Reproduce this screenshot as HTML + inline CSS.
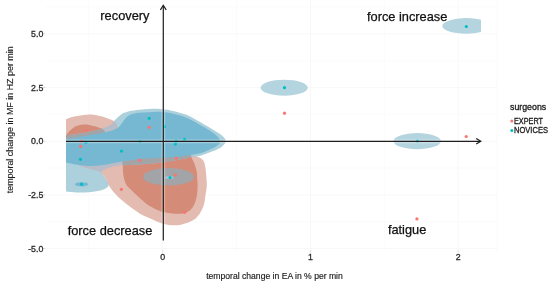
<!DOCTYPE html>
<html><head><meta charset="utf-8"><style>
html,body{margin:0;padding:0;background:#fff;}
body{width:550px;height:283px;overflow:hidden;}
svg{display:block;}
</style></head><body>
<svg width="550" height="283" viewBox="0 0 550 283"><defs><clipPath id="dr"><rect x="66" y="0" width="415" height="260"/></clipPath><clipPath id="cR1"><path d="M60.0,120.5 C61.0,113.7 63.6,120.0 66.0,119.3 C68.4,118.6 70.8,117.3 74.3,116.6 C77.8,115.8 83.6,115.1 86.7,114.8 C89.8,114.5 90.8,114.6 93.0,114.8 C95.2,115.0 97.8,115.4 100.0,115.9 C102.2,116.4 104.3,117.1 106.0,117.7 C107.7,118.3 108.7,118.8 110.0,119.3 C111.3,119.8 112.7,120.1 113.8,120.9 C114.9,121.7 115.5,122.5 116.5,124.0 C117.5,125.5 116.9,127.7 120.0,130.0 C123.1,132.3 128.3,135.3 135.0,138.0 C141.7,140.7 152.0,143.5 160.0,146.0 C168.0,148.5 177.8,151.4 183.0,153.0 C188.2,154.6 188.2,154.9 190.9,155.6 C193.6,156.3 196.9,156.5 198.9,157.3 C200.9,158.1 202.2,159.2 203.2,160.5 C204.2,161.8 204.4,163.1 204.9,165.0 C205.4,166.9 205.6,168.7 205.9,172.0 C206.2,175.3 206.9,180.8 206.8,185.0 C206.7,189.2 205.7,193.7 205.2,197.0 C204.7,200.3 204.8,202.0 203.9,204.8 C203.0,207.6 201.3,211.4 199.5,214.0 C197.7,216.6 195.9,218.6 193.0,220.3 C190.1,222.0 185.8,223.6 182.0,224.4 C178.2,225.2 173.7,225.5 170.0,225.2 C166.3,224.9 163.8,224.1 160.0,222.8 C156.2,221.5 150.9,218.9 147.4,217.3 C143.9,215.7 141.7,214.7 138.9,213.0 C136.1,211.3 133.2,209.2 130.4,207.1 C127.6,205.0 124.8,202.8 122.0,200.3 C119.2,197.8 115.7,194.4 113.5,191.9 C111.3,189.4 109.9,187.1 108.8,185.2 C107.7,183.3 107.6,181.9 106.8,180.4 C106.0,178.9 104.9,177.4 103.8,175.9 C102.7,174.4 101.9,172.8 99.9,171.7 C97.9,170.6 94.7,170.2 92.0,169.5 C89.3,168.8 86.8,168.3 84.0,167.2 C81.2,166.1 78.0,164.2 75.0,163.0 C72.0,161.8 68.5,160.5 66.0,160.0 C63.5,159.5 61.0,166.6 60.0,160.0 C59.0,153.4 59.0,127.3 60.0,120.5Z"/></clipPath><clipPath id="cR2"><path d="M64.0,139.0 C64.0,137.3 65.3,136.6 66.0,135.6 C66.7,134.6 67.3,133.6 68.0,132.8 C68.7,132.0 69.0,131.5 70.0,130.6 C71.0,129.7 72.5,128.2 73.8,127.4 C75.1,126.6 76.3,126.1 78.0,125.6 C79.7,125.1 82.1,124.7 83.9,124.6 C85.7,124.5 87.5,124.7 89.0,124.9 C90.5,125.2 91.7,125.7 93.2,126.1 C94.7,126.5 96.5,126.7 98.0,127.2 C99.5,127.7 101.3,128.2 102.5,129.2 C103.7,130.2 105.4,131.2 105.0,133.0 C104.6,134.8 104.2,138.0 100.0,140.0 C95.8,142.0 85.7,144.0 80.0,145.0 C74.3,146.0 68.7,147.0 66.0,146.0 C63.3,145.0 64.0,140.7 64.0,139.0Z"/><path d="M123.0,158.0 C121.0,160.3 122.7,162.9 122.8,166.0 C122.9,169.1 123.0,173.4 123.6,176.5 C124.2,179.6 125.0,182.3 126.2,184.5 C127.4,186.7 128.7,187.4 130.8,189.5 C132.9,191.6 136.1,194.7 138.9,197.2 C141.7,199.7 144.6,202.5 147.4,204.5 C150.2,206.5 153.2,207.9 155.8,209.2 C158.4,210.4 159.8,211.2 163.0,212.0 C166.2,212.8 171.3,213.6 175.0,213.8 C178.7,214.0 182.2,213.8 185.0,213.0 C187.8,212.2 189.7,210.8 191.5,208.8 C193.3,206.8 194.6,204.1 195.6,201.0 C196.6,197.9 197.2,193.5 197.5,190.0 C197.8,186.5 197.5,183.3 197.3,180.0 C197.1,176.7 197.2,173.3 196.4,170.0 C195.6,166.7 194.4,163.0 192.7,160.0 C191.0,157.0 191.4,153.7 186.0,152.0 C180.6,150.3 168.5,150.0 160.0,150.0 C151.5,150.0 141.2,150.7 135.0,152.0 C128.8,153.3 125.0,155.7 123.0,158.0Z"/></clipPath></defs><g stroke="#f8f8f8"><line x1="45" x2="497" y1="7.0" y2="7.0" stroke-width="0.6"/><line x1="45" x2="497" y1="33.8" y2="33.8" stroke-width="1.0"/><line x1="45" x2="497" y1="60.7" y2="60.7" stroke-width="0.6"/><line x1="45" x2="497" y1="87.5" y2="87.5" stroke-width="1.0"/><line x1="45" x2="497" y1="114.4" y2="114.4" stroke-width="0.6"/><line x1="45" x2="497" y1="141.2" y2="141.2" stroke-width="1.0"/><line x1="45" x2="497" y1="168.0" y2="168.0" stroke-width="0.6"/><line x1="45" x2="497" y1="194.9" y2="194.9" stroke-width="1.0"/><line x1="45" x2="497" y1="221.7" y2="221.7" stroke-width="0.6"/><line x1="45" x2="497" y1="248.5" y2="248.5" stroke-width="1.0"/><line y1="0" y2="252" x1="88.7" x2="88.7" stroke-width="0.6"/><line y1="0" y2="252" x1="162.6" x2="162.6" stroke-width="1.0"/><line y1="0" y2="252" x1="236.5" x2="236.5" stroke-width="0.6"/><line y1="0" y2="252" x1="310.4" x2="310.4" stroke-width="1.0"/><line y1="0" y2="252" x1="384.3" x2="384.3" stroke-width="0.6"/><line y1="0" y2="252" x1="458.2" x2="458.2" stroke-width="1.0"/><line y1="0" y2="252" x1="497" x2="497" stroke-width="0.6"/></g><g clip-path="url(#dr)"><path d="M60.0,135.8 C61.0,126.5 62.4,135.6 66.0,135.2 C69.6,134.8 76.6,134.0 81.6,133.2 C86.6,132.4 92.6,131.1 96.0,130.3 C99.4,129.5 100.0,129.3 102.0,128.6 C104.0,127.9 106.3,127.0 108.0,126.2 C109.7,125.4 110.9,124.4 112.0,123.5 C113.1,122.6 113.7,121.5 114.5,120.6 C115.3,119.7 115.8,119.0 117.0,117.9 C118.2,116.8 120.2,114.9 121.9,113.9 C123.6,112.9 124.4,112.5 126.9,111.9 C129.4,111.3 133.2,110.6 136.7,110.1 C140.2,109.6 144.1,109.3 148.0,109.1 C151.9,108.9 156.2,108.7 160.0,108.9 C163.8,109.1 166.2,109.4 170.6,110.4 C175.0,111.4 180.9,112.5 186.5,114.8 C192.1,117.1 199.2,121.7 204.2,124.5 C209.2,127.3 213.4,129.8 216.5,131.8 C219.6,133.8 221.4,135.0 223.0,136.5 C224.6,138.0 225.7,139.6 225.8,141.0 C225.9,142.4 224.6,143.8 223.5,145.0 C222.4,146.2 221.4,147.1 219.5,148.2 C217.6,149.3 214.9,150.4 211.8,151.6 C208.8,152.8 204.8,154.6 201.2,155.6 C197.6,156.6 193.5,157.0 190.0,157.6 C186.5,158.2 183.3,158.8 180.0,159.4 C176.7,160.0 175.0,160.5 170.0,161.2 C165.0,161.9 155.8,163.2 150.0,163.8 C144.2,164.4 140.0,164.5 135.3,164.7 C130.6,164.9 124.9,165.1 122.0,165.2 C119.1,165.3 119.9,165.1 117.7,165.5 C115.5,165.9 111.5,166.7 108.8,167.7 C106.1,168.7 102.3,170.1 101.5,171.5 C100.7,172.9 103.1,174.7 104.0,176.2 C104.9,177.7 106.0,179.0 106.8,180.4 C107.5,181.8 108.4,183.3 108.5,184.5 C108.6,185.7 108.4,186.4 107.3,187.3 C106.2,188.2 104.7,189.2 102.1,190.0 C99.5,190.8 95.9,191.5 91.7,191.9 C87.5,192.3 81.2,192.6 76.9,192.5 C72.6,192.4 68.8,191.8 66.0,191.6 C63.2,191.3 61.0,200.3 60.0,191.0 C59.0,181.7 59.0,145.1 60.0,135.8Z" fill="#acd0dc"/><path d="M60.0,120.5 C61.0,113.7 63.6,120.0 66.0,119.3 C68.4,118.6 70.8,117.3 74.3,116.6 C77.8,115.8 83.6,115.1 86.7,114.8 C89.8,114.5 90.8,114.6 93.0,114.8 C95.2,115.0 97.8,115.4 100.0,115.9 C102.2,116.4 104.3,117.1 106.0,117.7 C107.7,118.3 108.7,118.8 110.0,119.3 C111.3,119.8 112.7,120.1 113.8,120.9 C114.9,121.7 115.5,122.5 116.5,124.0 C117.5,125.5 116.9,127.7 120.0,130.0 C123.1,132.3 128.3,135.3 135.0,138.0 C141.7,140.7 152.0,143.5 160.0,146.0 C168.0,148.5 177.8,151.4 183.0,153.0 C188.2,154.6 188.2,154.9 190.9,155.6 C193.6,156.3 196.9,156.5 198.9,157.3 C200.9,158.1 202.2,159.2 203.2,160.5 C204.2,161.8 204.4,163.1 204.9,165.0 C205.4,166.9 205.6,168.7 205.9,172.0 C206.2,175.3 206.9,180.8 206.8,185.0 C206.7,189.2 205.7,193.7 205.2,197.0 C204.7,200.3 204.8,202.0 203.9,204.8 C203.0,207.6 201.3,211.4 199.5,214.0 C197.7,216.6 195.9,218.6 193.0,220.3 C190.1,222.0 185.8,223.6 182.0,224.4 C178.2,225.2 173.7,225.5 170.0,225.2 C166.3,224.9 163.8,224.1 160.0,222.8 C156.2,221.5 150.9,218.9 147.4,217.3 C143.9,215.7 141.7,214.7 138.9,213.0 C136.1,211.3 133.2,209.2 130.4,207.1 C127.6,205.0 124.8,202.8 122.0,200.3 C119.2,197.8 115.7,194.4 113.5,191.9 C111.3,189.4 109.9,187.1 108.8,185.2 C107.7,183.3 107.6,181.9 106.8,180.4 C106.0,178.9 104.9,177.4 103.8,175.9 C102.7,174.4 101.9,172.8 99.9,171.7 C97.9,170.6 94.7,170.2 92.0,169.5 C89.3,168.8 86.8,168.3 84.0,167.2 C81.2,166.1 78.0,164.2 75.0,163.0 C72.0,161.8 68.5,160.5 66.0,160.0 C63.5,159.5 61.0,166.6 60.0,160.0 C59.0,153.4 59.0,127.3 60.0,120.5Z" fill="#e3bbb0"/><path d="M64.0,139.0 C64.0,137.3 65.3,136.6 66.0,135.6 C66.7,134.6 67.3,133.6 68.0,132.8 C68.7,132.0 69.0,131.5 70.0,130.6 C71.0,129.7 72.5,128.2 73.8,127.4 C75.1,126.6 76.3,126.1 78.0,125.6 C79.7,125.1 82.1,124.7 83.9,124.6 C85.7,124.5 87.5,124.7 89.0,124.9 C90.5,125.2 91.7,125.7 93.2,126.1 C94.7,126.5 96.5,126.7 98.0,127.2 C99.5,127.7 101.3,128.2 102.5,129.2 C103.7,130.2 105.4,131.2 105.0,133.0 C104.6,134.8 104.2,138.0 100.0,140.0 C95.8,142.0 85.7,144.0 80.0,145.0 C74.3,146.0 68.7,147.0 66.0,146.0 C63.3,145.0 64.0,140.7 64.0,139.0Z" fill="#d48b77"/><path d="M123.0,158.0 C121.0,160.3 122.7,162.9 122.8,166.0 C122.9,169.1 123.0,173.4 123.6,176.5 C124.2,179.6 125.0,182.3 126.2,184.5 C127.4,186.7 128.7,187.4 130.8,189.5 C132.9,191.6 136.1,194.7 138.9,197.2 C141.7,199.7 144.6,202.5 147.4,204.5 C150.2,206.5 153.2,207.9 155.8,209.2 C158.4,210.4 159.8,211.2 163.0,212.0 C166.2,212.8 171.3,213.6 175.0,213.8 C178.7,214.0 182.2,213.8 185.0,213.0 C187.8,212.2 189.7,210.8 191.5,208.8 C193.3,206.8 194.6,204.1 195.6,201.0 C196.6,197.9 197.2,193.5 197.5,190.0 C197.8,186.5 197.5,183.3 197.3,180.0 C197.1,176.7 197.2,173.3 196.4,170.0 C195.6,166.7 194.4,163.0 192.7,160.0 C191.0,157.0 191.4,153.7 186.0,152.0 C180.6,150.3 168.5,150.0 160.0,150.0 C151.5,150.0 141.2,150.7 135.0,152.0 C128.8,153.3 125.0,155.7 123.0,158.0Z" fill="#d48b77"/><path d="M60.0,135.8 C61.0,126.5 62.4,135.6 66.0,135.2 C69.6,134.8 76.6,134.0 81.6,133.2 C86.6,132.4 92.6,131.1 96.0,130.3 C99.4,129.5 100.0,129.3 102.0,128.6 C104.0,127.9 106.3,127.0 108.0,126.2 C109.7,125.4 110.9,124.4 112.0,123.5 C113.1,122.6 113.7,121.5 114.5,120.6 C115.3,119.7 115.8,119.0 117.0,117.9 C118.2,116.8 120.2,114.9 121.9,113.9 C123.6,112.9 124.4,112.5 126.9,111.9 C129.4,111.3 133.2,110.6 136.7,110.1 C140.2,109.6 144.1,109.3 148.0,109.1 C151.9,108.9 156.2,108.7 160.0,108.9 C163.8,109.1 166.2,109.4 170.6,110.4 C175.0,111.4 180.9,112.5 186.5,114.8 C192.1,117.1 199.2,121.7 204.2,124.5 C209.2,127.3 213.4,129.8 216.5,131.8 C219.6,133.8 221.4,135.0 223.0,136.5 C224.6,138.0 225.7,139.6 225.8,141.0 C225.9,142.4 224.6,143.8 223.5,145.0 C222.4,146.2 221.4,147.1 219.5,148.2 C217.6,149.3 214.9,150.4 211.8,151.6 C208.8,152.8 204.8,154.6 201.2,155.6 C197.6,156.6 193.5,157.0 190.0,157.6 C186.5,158.2 183.3,158.8 180.0,159.4 C176.7,160.0 175.0,160.5 170.0,161.2 C165.0,161.9 155.8,163.2 150.0,163.8 C144.2,164.4 140.0,164.5 135.3,164.7 C130.6,164.9 124.9,165.1 122.0,165.2 C119.1,165.3 119.9,165.1 117.7,165.5 C115.5,165.9 111.5,166.7 108.8,167.7 C106.1,168.7 102.3,170.1 101.5,171.5 C100.7,172.9 103.1,174.7 104.0,176.2 C104.9,177.7 106.0,179.0 106.8,180.4 C107.5,181.8 108.4,183.3 108.5,184.5 C108.6,185.7 108.4,186.4 107.3,187.3 C106.2,188.2 104.7,189.2 102.1,190.0 C99.5,190.8 95.9,191.5 91.7,191.9 C87.5,192.3 81.2,192.6 76.9,192.5 C72.6,192.4 68.8,191.8 66.0,191.6 C63.2,191.3 61.0,200.3 60.0,191.0 C59.0,181.7 59.0,145.1 60.0,135.8Z" fill="#b7bcc9" clip-path="url(#cR1)"/><path d="M60.0,135.8 C61.0,126.5 62.4,135.6 66.0,135.2 C69.6,134.8 76.6,134.0 81.6,133.2 C86.6,132.4 92.6,131.1 96.0,130.3 C99.4,129.5 100.0,129.3 102.0,128.6 C104.0,127.9 106.3,127.0 108.0,126.2 C109.7,125.4 110.9,124.4 112.0,123.5 C113.1,122.6 113.7,121.5 114.5,120.6 C115.3,119.7 115.8,119.0 117.0,117.9 C118.2,116.8 120.2,114.9 121.9,113.9 C123.6,112.9 124.4,112.5 126.9,111.9 C129.4,111.3 133.2,110.6 136.7,110.1 C140.2,109.6 144.1,109.3 148.0,109.1 C151.9,108.9 156.2,108.7 160.0,108.9 C163.8,109.1 166.2,109.4 170.6,110.4 C175.0,111.4 180.9,112.5 186.5,114.8 C192.1,117.1 199.2,121.7 204.2,124.5 C209.2,127.3 213.4,129.8 216.5,131.8 C219.6,133.8 221.4,135.0 223.0,136.5 C224.6,138.0 225.7,139.6 225.8,141.0 C225.9,142.4 224.6,143.8 223.5,145.0 C222.4,146.2 221.4,147.1 219.5,148.2 C217.6,149.3 214.9,150.4 211.8,151.6 C208.8,152.8 204.8,154.6 201.2,155.6 C197.6,156.6 193.5,157.0 190.0,157.6 C186.5,158.2 183.3,158.8 180.0,159.4 C176.7,160.0 175.0,160.5 170.0,161.2 C165.0,161.9 155.8,163.2 150.0,163.8 C144.2,164.4 140.0,164.5 135.3,164.7 C130.6,164.9 124.9,165.1 122.0,165.2 C119.1,165.3 119.9,165.1 117.7,165.5 C115.5,165.9 111.5,166.7 108.8,167.7 C106.1,168.7 102.3,170.1 101.5,171.5 C100.7,172.9 103.1,174.7 104.0,176.2 C104.9,177.7 106.0,179.0 106.8,180.4 C107.5,181.8 108.4,183.3 108.5,184.5 C108.6,185.7 108.4,186.4 107.3,187.3 C106.2,188.2 104.7,189.2 102.1,190.0 C99.5,190.8 95.9,191.5 91.7,191.9 C87.5,192.3 81.2,192.6 76.9,192.5 C72.6,192.4 68.8,191.8 66.0,191.6 C63.2,191.3 61.0,200.3 60.0,191.0 C59.0,181.7 59.0,145.1 60.0,135.8Z" fill="#a2a4a8" clip-path="url(#cR2)"/><path d="M60.0,139.6 C61.0,135.8 63.7,139.5 66.0,139.2 C68.3,138.9 71.2,138.4 73.8,138.0 C76.4,137.6 79.0,137.1 81.6,136.6 C84.2,136.1 86.2,135.7 89.3,135.2 C92.4,134.7 96.9,134.2 100.0,133.6 C103.1,133.0 105.5,132.3 108.0,131.6 C110.5,130.9 113.0,130.2 114.8,129.4 C116.6,128.7 117.7,128.1 118.9,127.1 C120.1,126.1 120.9,124.7 121.9,123.3 C122.9,121.9 123.8,120.2 124.9,118.9 C126.1,117.6 126.8,116.4 128.8,115.4 C130.8,114.4 133.5,113.6 136.7,113.1 C139.9,112.6 144.1,112.4 148.0,112.2 C151.9,112.0 155.7,111.5 160.0,111.8 C164.3,112.1 169.4,112.8 174.1,113.9 C178.8,115.0 183.3,116.2 188.3,118.4 C193.3,120.6 199.7,124.6 204.2,127.3 C208.7,130.0 212.6,132.2 215.3,134.5 C218.0,136.8 219.7,139.1 220.2,140.8 C220.7,142.5 219.6,143.5 218.2,144.8 C216.8,146.1 214.4,147.4 212.0,148.6 C209.6,149.8 206.8,151.1 204.0,152.0 C201.2,152.9 199.1,153.6 195.3,154.3 C191.5,155.0 187.1,155.8 181.2,156.4 C175.3,157.0 167.7,157.3 160.0,157.8 C152.3,158.3 141.7,158.9 135.3,159.5 C128.9,160.1 126.2,160.7 121.4,161.5 C116.6,162.3 111.5,163.8 106.6,164.5 C101.6,165.2 96.7,166.0 91.7,166.0 C86.8,166.0 81.2,165.3 76.9,164.7 C72.6,164.1 68.8,162.9 66.0,162.5 C63.2,162.1 61.0,165.8 60.0,162.0 C59.0,158.2 59.0,143.4 60.0,139.6Z" fill="#76b8d2"/><path d="M74.8,184.3 A6.8,2.1 0 1,0 88.4,184.3 A6.8,2.1 0 1,0 74.8,184.3Z" fill="#76b8d2"/><path d="M143.0,176.8 A25.5,8.7 0 1,0 194.0,176.8 A25.5,8.7 0 1,0 143.0,176.8Z" fill="#a2a4a8"/><path d="M165.0,177.5 A4.3,1.6 0 1,0 173.6,177.5 A4.3,1.6 0 1,0 165.0,177.5Z" fill="#9cc6d6"/><path d="M260.6,87.7 A23.6,8.0 0 1,0 307.8,87.7 A23.6,8.0 0 1,0 260.6,87.7Z" fill="#acd0dc" fill-opacity="0.9"/><path d="M393.5,141.1 A23.7,8.05 0 1,0 440.9,141.1 A23.7,8.05 0 1,0 393.5,141.1Z" fill="#acd0dc" fill-opacity="0.9"/><path d="M442.3,25.9 A24.0,7.8 0 1,0 490.3,25.9 A24.0,7.8 0 1,0 442.3,25.9Z" fill="#acd0dc" fill-opacity="0.9"/></g><circle cx="466.2" cy="136.5" r="1.6" fill="#f8766d"/><circle cx="284.5" cy="113.2" r="1.6" fill="#f8766d"/><circle cx="416.9" cy="218.9" r="1.6" fill="#f8766d"/><circle cx="149.2" cy="127.3" r="1.6" fill="#f8766d"/><circle cx="85.9" cy="130.6" r="1.6" fill="#f8766d"/><circle cx="81.4" cy="141.2" r="1.6" fill="#f8766d"/><circle cx="80.5" cy="146.4" r="1.6" fill="#f8766d"/><circle cx="139.6" cy="160.2" r="1.6" fill="#f8766d"/><circle cx="176.2" cy="158.2" r="1.6" fill="#f8766d"/><circle cx="175.4" cy="175" r="1.6" fill="#f8766d"/><circle cx="121.4" cy="189.3" r="1.6" fill="#f8766d"/><circle cx="184.6" cy="212.3" r="1.6" fill="#f8766d"/><circle cx="163.8" cy="206.6" r="1.6" fill="#f8766d"/><circle cx="466.3" cy="26.5" r="1.6" fill="#00bfc4"/><circle cx="284.5" cy="87.7" r="1.6" fill="#00bfc4"/><circle cx="417.4" cy="141.1" r="1.6" fill="#00bfc4"/><circle cx="164.5" cy="126.7" r="1.6" fill="#00bfc4"/><circle cx="149.2" cy="118.3" r="1.6" fill="#00bfc4"/><circle cx="184.7" cy="139.4" r="1.6" fill="#00bfc4"/><circle cx="176.2" cy="141.2" r="1.6" fill="#00bfc4"/><circle cx="175.4" cy="143.9" r="1.6" fill="#00bfc4"/><circle cx="140" cy="141.4" r="1.6" fill="#00bfc4"/><circle cx="121.5" cy="151.1" r="1.6" fill="#00bfc4"/><circle cx="85.9" cy="142.3" r="1.6" fill="#00bfc4"/><circle cx="80.5" cy="159.3" r="1.6" fill="#00bfc4"/><circle cx="81.6" cy="184.2" r="1.6" fill="#00bfc4"/><circle cx="170" cy="177.6" r="1.6" fill="#00bfc4"/><g stroke="#fff" stroke-width="3.8" stroke-opacity="0.3" fill="none"><line x1="66" y1="141.3" x2="476" y2="141.3"/><line x1="163.3" y1="240.6" x2="163.3" y2="10"/></g><g stroke="#1e1e1e" stroke-width="1.2" fill="none" stroke-linecap="butt"><line x1="66" y1="141.3" x2="480.3" y2="141.3"/><polyline points="476.2,138.5 480.8,141.3 476.2,144.1" stroke-linejoin="miter"/><line x1="163.3" y1="240.6" x2="163.3" y2="5.8"/><polyline points="160.4,9.9 163.3,5.3 166.2,9.9" stroke-linejoin="miter"/></g><g stroke="#cfcfcf" stroke-width="0.8"><line x1="43.2" x2="45.2" y1="33.8" y2="33.8"/><line x1="43.2" x2="45.2" y1="87.5" y2="87.5"/><line x1="43.2" x2="45.2" y1="141.2" y2="141.2"/><line x1="43.2" x2="45.2" y1="194.9" y2="194.9"/><line x1="43.2" x2="45.2" y1="248.5" y2="248.5"/><line y1="250.5" y2="252.5" x1="162.6" x2="162.6"/><line y1="250.5" y2="252.5" x1="310.4" x2="310.4"/><line y1="250.5" y2="252.5" x1="458.2" x2="458.2"/></g><g font-family="Liberation Sans, sans-serif" font-size="8.8" fill="#2a2a2a" stroke="#2a2a2a" stroke-width="0.3"><text x="43.3" y="37.0" text-anchor="end">5.0</text><text x="43.3" y="90.7" text-anchor="end">2.5</text><text x="43.3" y="144.4" text-anchor="end">0.0</text><text x="43.3" y="198.1" text-anchor="end">-2.5</text><text x="43.3" y="251.7" text-anchor="end">-5.0</text><text x="162.6" y="260.3" text-anchor="middle">0</text><text x="310.4" y="260.3" text-anchor="middle">1</text><text x="458.2" y="260.3" text-anchor="middle">2</text></g><text x="274.5" y="279" text-anchor="middle" font-family="Liberation Sans, sans-serif" font-size="8.6" fill="#1a1a1a" stroke="#1a1a1a" stroke-width="0.15">temporal change in EA in % per min</text><text transform="translate(13.4,119.8) rotate(-90)" text-anchor="middle" font-family="Liberation Sans, sans-serif" font-size="8.7" fill="#1a1a1a" stroke="#1a1a1a" stroke-width="0.12" textLength="147" lengthAdjust="spacingAndGlyphs">temporal change in MF in HZ per min</text><g font-family="Liberation Sans, sans-serif" font-size="12.8" fill="#111" stroke="#111" stroke-width="0.25" text-anchor="middle"><text x="124.9" y="20.4">recovery</text><text x="407.2" y="20.6">force increase</text><text x="110" y="234.6">force decrease</text><text x="407.1" y="234.0">fatigue</text></g><g font-family="Liberation Sans, sans-serif" fill="#1a1a1a" stroke="#1a1a1a" stroke-width="0.3"><text x="510" y="109.5" font-size="8.8">surgeons</text><text x="514" y="124" font-size="8.4" textLength="29" lengthAdjust="spacingAndGlyphs">EXPERT</text><text x="514" y="133.4" font-size="8.4" textLength="34" lengthAdjust="spacingAndGlyphs">NOVICES</text></g><circle cx="511.8" cy="121" r="1.5" fill="#f8766d"/><circle cx="511.8" cy="130.4" r="1.5" fill="#00bfc4"/></svg>
</body></html>
